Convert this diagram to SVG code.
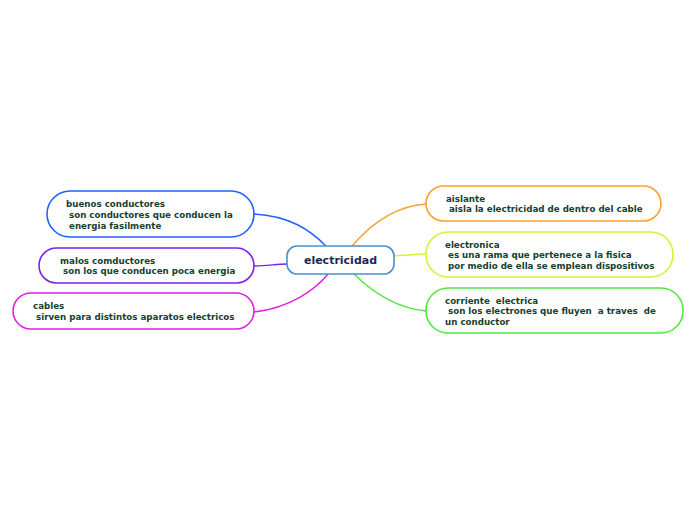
<svg xmlns="http://www.w3.org/2000/svg" width="696" height="520" viewBox="0 0 696 520">
<style>
.node{fill:#ffffff;stroke-width:1.6}
.t{font-family:"DejaVu Sans",Verdana,sans-serif;font-weight:bold;font-size:8.7px;fill:#17402f}
.c{font-family:"DejaVu Sans",Verdana,sans-serif;font-weight:bold;font-size:11px;fill:#1b2a55}
.conn path{fill:none;stroke-width:1.4}
</style>
<rect width="696" height="520" fill="#ffffff"/>
<g id="connectors" class="conn">
<path d="M254,214 C290,216 310,230 326,246" stroke="#2060ff"/>
<path d="M254,266 C268,266 276,264 287,264" stroke="#7a20f0"/>
<path d="M254,312 C290,308 315,290 329,273" stroke="#e020e0"/>
<path d="M426,204 C395,206 370,225 352,246" stroke="#ffa030"/>
<path d="M394,256 C406,255 416,254 426,254" stroke="#d8f030"/>
<path d="M353,273 C370,290 395,308 426,311" stroke="#50e840"/>
</g>
<g id="center">
<rect class="node" x="287" y="246" width="107" height="28" rx="10" stroke="#4a90d0"/>
<text class="c" x="340.5" y="264" text-anchor="middle">electricidad</text>
</g>
<g id="buenos">
<rect class="node" x="47" y="191" width="207" height="46" rx="23" stroke="#2060ff"/>
<text class="t"><tspan x="66" y="207">buenos conductores</tspan><tspan x="69" y="218">son conductores que conducen la</tspan><tspan x="69" y="229">energia fasilmente</tspan></text>
</g>
<g id="malos">
<rect class="node" x="39" y="248" width="215" height="35" rx="17.5" stroke="#7a20f0"/>
<text class="t"><tspan x="60" y="264">malos comductores</tspan><tspan x="63" y="274">son los que conducen poca energia</tspan></text>
</g>
<g id="cables">
<rect class="node" x="13" y="293" width="241" height="36" rx="18" stroke="#e020e0"/>
<text class="t"><tspan x="33" y="309">cables</tspan><tspan x="36" y="320">sirven para distintos aparatos electricos</tspan></text>
</g>
<g id="aislante">
<rect class="node" x="426" y="186" width="235" height="35" rx="17.5" stroke="#ffa030"/>
<text class="t"><tspan x="446" y="202">aislante</tspan><tspan x="449" y="212">aisla la electricidad de dentro del cable</tspan></text>
</g>
<g id="electronica">
<rect class="node" x="426" y="232" width="247" height="45" rx="22" stroke="#d8f030"/>
<text class="t"><tspan x="445" y="248">electronica</tspan><tspan x="448" y="258">es una rama que pertenece a la fisica</tspan><tspan x="448" y="269">por medio de ella se emplean dispositivos</tspan></text>
</g>
<g id="corriente">
<rect class="node" x="426" y="288" width="257" height="45" rx="22" stroke="#50e840"/>
<text class="t" xml:space="preserve"><tspan x="445" y="304">corriente  electrica</tspan><tspan x="448" y="314">son los electrones que fluyen  a traves  de</tspan><tspan x="445" y="325">un conductor</tspan></text>
</g>
</svg>
